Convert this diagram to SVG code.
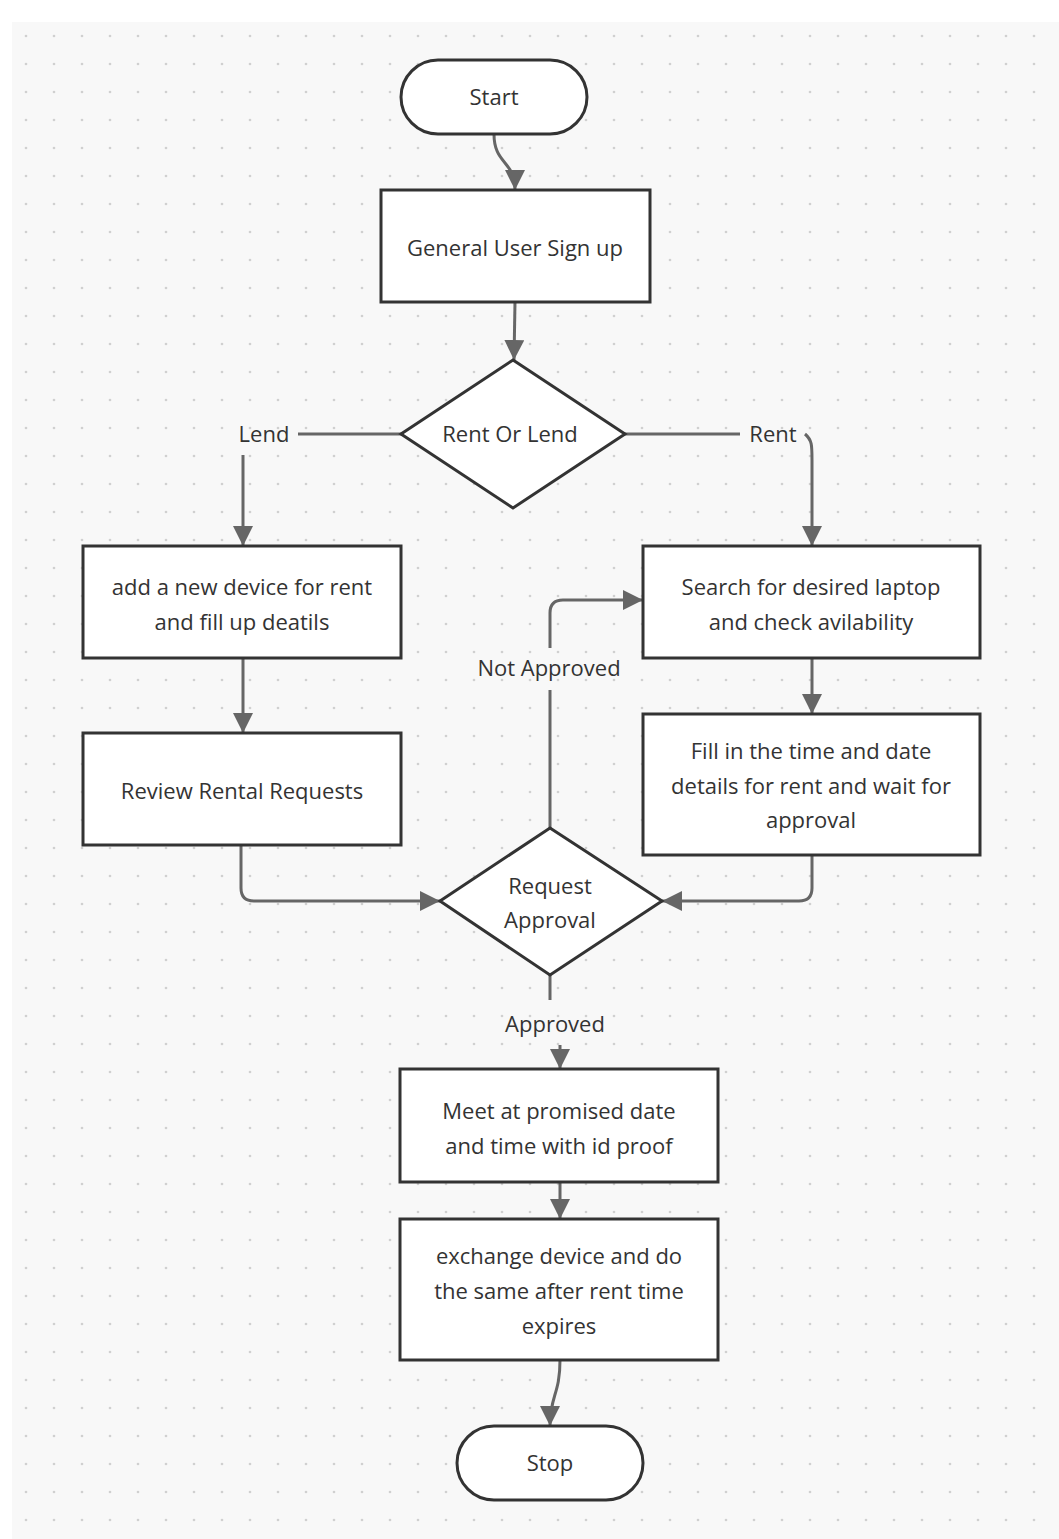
<svg xmlns="http://www.w3.org/2000/svg" width="1059" height="1539" viewBox="0 0 1059 1539">
<defs>
<pattern id="dots" x="12" y="22" width="28" height="28" patternUnits="userSpaceOnUse">
<rect width="28" height="28" fill="#f8f8f8"/><circle cx="14" cy="14" r="1.3" fill="#d0d0d0"/>
</pattern>
<marker id="ah" viewBox="0 0 10 10" refX="9" refY="5" markerWidth="7" markerHeight="7" markerUnits="userSpaceOnUse" orient="auto">
<path d="M0,0 L10,5 L0,10 z" fill="#666"/>
</marker>
<style>
.n{fill:#fff;stroke:#333;stroke-width:3}
.t{font-family:"Open Sans","Liberation Sans",sans-serif;font-size:22px;fill:#333;text-anchor:middle}
.c{fill:none;stroke:#666;stroke-width:3}
.a{marker-end:url(#ah)}
</style>
<marker id="arr" viewBox="0 0 10 10" refX="10" refY="5" markerWidth="20" markerHeight="20" markerUnits="userSpaceOnUse" orient="auto"><path d="M0,0 L10,5 L0,10 z" fill="#666"/></marker>
</defs>
<rect width="1059" height="1539" fill="#fff"/>
<rect x="12" y="22" width="1047" height="1517" fill="url(#dots)"/>
<g id="connectors">
<path class="c" marker-end="url(#arr)" d="M494,134 C494,165 515,160 515,190"/>
<path class="c" marker-end="url(#arr)" d="M515,302 L514,360"/>
<path class="c" d="M401,434 L298,434"/>
<path class="c" marker-end="url(#arr)" d="M243,455 L243,546"/>
<path class="c" d="M625,434 L740,434"/>
<path class="c" marker-end="url(#arr)" d="M805,434 C812,440 812,445 812,460 L812,546"/>
<path class="c" marker-end="url(#arr)" d="M243,658 L243,733"/>
<path class="c" marker-end="url(#arr)" d="M812,658 L812,714"/>
<path class="c" marker-end="url(#arr)" d="M241,845 L241,888 Q241,901 254,901 L440,901"/>
<path class="c" marker-end="url(#arr)" d="M812,855 L812,888 Q812,901 799,901 L662,901"/>
<path class="c" d="M550,828 L550,690"/>
<path class="c" marker-end="url(#arr)" d="M550,648 L550,613 Q550,600 563,600 L643,600"/>
<path class="c" d="M550,975 L550,1000"/>
<path class="c" marker-end="url(#arr)" d="M560,1045 L560,1069"/>
<path class="c" marker-end="url(#arr)" d="M560,1182 L560,1219"/>
<path class="c" marker-end="url(#arr)" d="M560,1360 C560,1395 550,1395 550,1426"/>
</g>
<g id="labels">
<text class="t" x="264" y="442">Lend</text>
<text class="t" x="773" y="442">Rent</text>
<text class="t" x="549" y="676">Not Approved</text>
<text class="t" x="555" y="1032">Approved</text>
</g>
<g id="start"><rect class="n" x="401" y="60" width="186" height="74" rx="37"/><text class="t" x="494" y="105">Start</text></g>
<g id="signup"><rect class="n" x="381" y="190" width="269" height="112"/><text class="t" x="515" y="256">General User Sign up</text></g>
<g id="rentorlend"><polygon class="n" points="513,360 625,434 513,508 401,434"/><text class="t" x="510" y="442">Rent Or Lend</text></g>
<g id="adddevice"><rect class="n" x="83" y="546" width="318" height="112"/><text class="t" x="242" y="595">add a new device for rent</text><text class="t" x="242" y="630">and fill up deatils</text></g>
<g id="search"><rect class="n" x="643" y="546" width="337" height="112"/><text class="t" x="811" y="595">Search for desired laptop</text><text class="t" x="811" y="630">and check avilability</text></g>
<g id="review"><rect class="n" x="83" y="733" width="318" height="112"/><text class="t" x="242" y="799">Review Rental Requests</text></g>
<g id="fill"><rect class="n" x="643" y="714" width="337" height="141"/><text class="t" x="811" y="759">Fill in the time and date</text><text class="t" x="811" y="794">details for rent and wait for</text><text class="t" x="811" y="828">approval</text></g>
<g id="approval"><polygon class="n" points="550,828 662,901 550,975 440,901"/><text class="t" x="550" y="894">Request</text><text class="t" x="550" y="928">Approval</text></g>
<g id="meet"><rect class="n" x="400" y="1069" width="318" height="113"/><text class="t" x="559" y="1119">Meet at promised date</text><text class="t" x="559" y="1154">and time with id proof</text></g>
<g id="exchange"><rect class="n" x="400" y="1219" width="318" height="141"/><text class="t" x="559" y="1264">exchange device and do</text><text class="t" x="559" y="1299">the same after rent time</text><text class="t" x="559" y="1334">expires</text></g>
<g id="stop"><rect class="n" x="457" y="1426" width="186" height="74" rx="37"/><text class="t" x="550" y="1471">Stop</text></g>
</svg>
